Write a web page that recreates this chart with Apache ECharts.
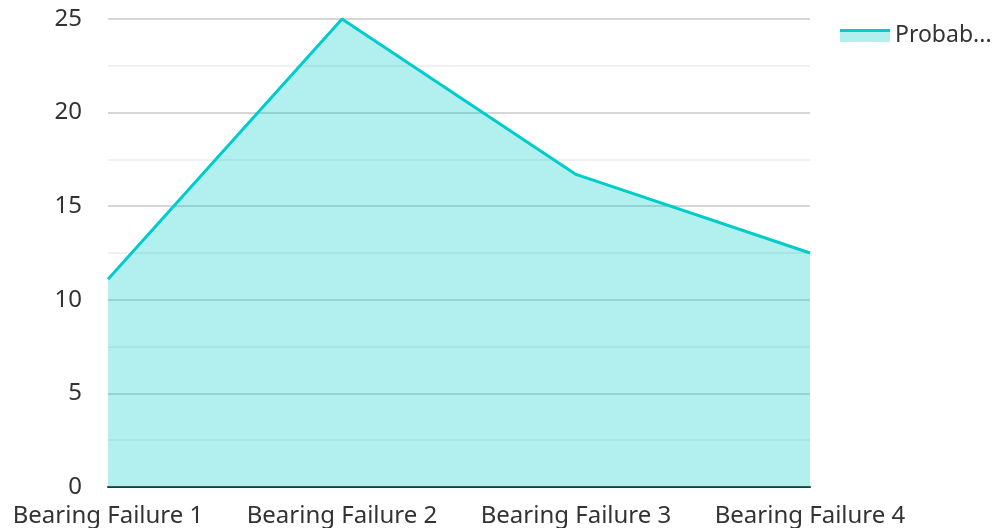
<!DOCTYPE html>
<html>
<head>
<meta charset="utf-8">
<script src="https://cdn.jsdelivr.net/npm/echarts@6/dist/echarts.min.js"></script>
<style>
html,body{margin:0;padding:0;background:#fff;}
#chart{width:1000px;height:528px;}
</style>
</head>
<body>
<div id="chart"></div>
<script>
var categories = ['Bearing Failure 1', 'Bearing Failure 2', 'Bearing Failure 3', 'Bearing Failure 4'];
var seriesName = 'Probability';
var values = [11.1, 25, 16.7, 12.5];

var chart = echarts.init(document.getElementById('chart'));
var font = 'Noto Sans';
var legendIconColor = new echarts.graphic.LinearGradient(0, 0, 0, 1, [
  { offset: 0, color: '#00cccc' },
  { offset: 0.23, color: '#00cccc' },
  { offset: 0.23, color: '#b2efef' },
  { offset: 1, color: '#b2efef' }
]);
chart.setOption({
  animation: false,
  textStyle: { fontFamily: font },
  grid: { left: 108, right: 190, top: 19, bottom: 41, containLabel: false },
  legend: {
    show: true,
    left: 835,
    top: 19,
    itemWidth: 50,
    itemHeight: 13,
    itemGap: 10,
    textStyle: { fontSize: 23, color: '#333', fontFamily: font, width: 100, overflow: 'truncate', ellipsis: '...' },
    data: [{ name: seriesName, icon: 'rect', itemStyle: { color: legendIconColor } }]
  },
  xAxis: {
    type: 'category',
    data: categories,
    boundaryGap: false,
    axisLine: { show: true, lineStyle: { color: '#333', width: 2 } },
    axisTick: { show: false },
    axisLabel: { fontSize: 24, color: '#333', margin: 17, fontFamily: font, interval: 0 },
    splitLine: { show: false }
  },
  yAxis: {
    type: 'value',
    min: 0,
    max: 25,
    interval: 5,
    axisLine: { show: false },
    axisTick: { show: false },
    axisLabel: { fontSize: 24, color: '#333', margin: 26, fontFamily: font },
    splitLine: { show: true, lineStyle: { color: '#c8c8c8', width: 1.5 } },
    minorTick: { show: false, splitNumber: 2 },
    minorSplitLine: { show: true, lineStyle: { color: '#ebebeb', width: 1.5 } }
  },
  series: [{
    name: seriesName,
    type: 'line',
    data: values,
    symbol: 'none',
    lineStyle: { color: '#00cccc', width: 3 },
    itemStyle: { color: '#00cccc' },
    areaStyle: { color: '#00cccc', opacity: 0.3 }
  }]
});
</script>
</body>
</html>
